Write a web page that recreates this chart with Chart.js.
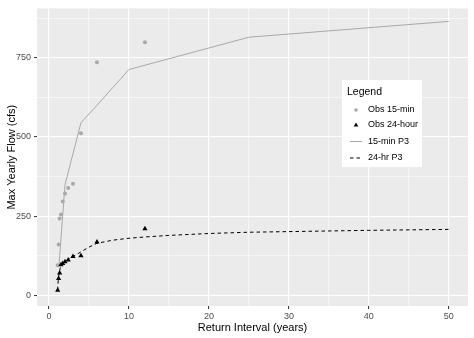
<!DOCTYPE html>
<html>
<head>
<meta charset="utf-8">
<script src="https://cdn.jsdelivr.net/npm/chart.js@4"></script>
<style>
  body { margin: 0; background: #fff; }
  canvas { display: block; }
</style>
</head>
<body>
<canvas id="flowChart" width="474" height="338"></canvas>
<script>
// observed return intervals (Weibull plotting positions, 11 years)
const obsInterval = [12, 6, 4, 3, 2.4, 2, 1.71, 1.5, 1.33, 1.2, 1.09];
const obs15min = [799, 736, 512, 352, 339, 321, 296, 255, 242, 160, 95];
const obs24hr = [210, 168, 125, 122, 111, 106, 100, 96, 70, 53, 16];

// fitted Pearson III curves
const p3Interval15 = [1.25, 2, 4, 6, 10, 25, 50];
const p3Flow15 = [95, 349, 545, 600, 713, 815, 865];
const p3Interval24 = [1.08, 1.15, 1.25, 1.4, 1.6, 2, 2.5, 3, 4, 5, 6, 8, 10, 12, 15, 20, 25, 30, 40, 50];
const p3Flow24 = [16, 45, 68, 85, 97, 106, 114, 122, 137, 152, 164, 174, 180, 184, 189, 195, 199, 201, 205, 208];

const seriesNames = ['Obs 15-min', 'Obs 24-hour', '15-min P3', '24-hr P3'];
const xTicks = [0, 10, 20, 30, 40, 50];
const xMinor = [5, 15, 25, 35, 45];
const yTicks = [0, 250, 500, 750];
const yMinor = [125, 375, 625, 875];

const FONT = "'Liberation Sans', Arial, sans-serif";
const toPoints = (xs, ys) => xs.map((x, i) => ({ x: x, y: ys[i] }));

const panelBg = {
    id: 'panelBg',
    beforeDraw(chart) {
        const { ctx, chartArea: a } = chart;
        ctx.save();
        ctx.fillStyle = '#EBEBEB';
        ctx.fillRect(a.left, a.top, a.right - a.left, a.bottom - a.top);
        ctx.restore();
    }
};

// ggplot-style legend box inside the panel
const insetLegend = {
    id: 'insetLegend',
    afterDraw(chart) {
        const c = chart.ctx;
        c.save();
        c.fillStyle = '#ffffff';
        c.fillRect(342, 80, 80, 87);
        c.fillStyle = '#000';
        c.textBaseline = 'middle';
        c.font = '10.5px ' + FONT;
        c.fillText('Legend', 347, 92);
        c.font = '9px ' + FONT;
        const rows = [110, 125, 141.5, 158];
        chart.data.datasets.forEach((ds, i) => {
            const y = rows[i];
            const kx = 356;
            if (i === 0) {
                c.fillStyle = '#A9A9A9';
                c.beginPath();
                c.arc(kx, y, 1.8, 0, Math.PI * 2);
                c.fill();
            } else if (i === 1) {
                c.fillStyle = '#000';
                c.beginPath();
                c.moveTo(kx, y - 2.6);
                c.lineTo(kx + 2.3, y + 1.4);
                c.lineTo(kx - 2.3, y + 1.4);
                c.closePath();
                c.fill();
            } else {
                c.strokeStyle = ds.borderColor;
                c.lineWidth = 1;
                c.setLineDash(ds.borderDash || []);
                c.beginPath();
                c.moveTo(350, y);
                c.lineTo(362, y);
                c.stroke();
                c.setLineDash([]);
            }
            c.fillStyle = '#000';
            c.fillText(ds.label, 368, y);
        });
        c.restore();
    }
};

const ctx = document.getElementById('flowChart').getContext('2d');

new Chart(ctx, {
    type: 'line',
    data: {
        datasets: [
            {
                label: seriesNames[0],
                data: toPoints(obsInterval, obs15min),
                showLine: false,
                pointStyle: 'circle',
                pointRadius: 2,
                pointBorderWidth: 0,
                pointBackgroundColor: '#A9A9A9',
                borderColor: '#A9A9A9',
                order: 2
            },
            {
                label: seriesNames[1],
                data: toPoints(obsInterval, obs24hr),
                showLine: false,
                pointStyle: 'triangle',
                pointRadius: 3,
                pointBorderWidth: 0,
                pointBackgroundColor: '#000',
                borderColor: '#000',
                order: 1
            },
            {
                label: seriesNames[2],
                data: toPoints(p3Interval15, p3Flow15),
                borderColor: '#A9A9A9',
                borderWidth: 1,
                pointRadius: 0,
                tension: 0,
                order: 4
            },
            {
                label: seriesNames[3],
                data: toPoints(p3Interval24, p3Flow24),
                borderColor: '#000',
                borderWidth: 1,
                borderDash: [3.5, 3],
                pointRadius: 0,
                tension: 0,
                order: 3
            }
        ]
    },
    options: {
        responsive: false,
        animation: false,
        layout: { padding: { top: 5, right: 6, left: 0, bottom: 0 } },
        plugins: {
            legend: { display: false },
            tooltip: { enabled: false }
        },
        scales: {
            x: {
                type: 'linear',
                min: -1.5,
                max: 52.4,
                afterBuildTicks: (s) => { s.ticks = xTicks.concat(xMinor).map(v => ({ value: v })); },
                afterFit: (s) => { s.height = 32; },
                border: { display: false },
                grid: {
                    color: '#ffffff',
                    lineWidth: (c) => xMinor.includes(c.tick && c.tick.value) ? 0.55 : 1.1,
                    tickLength: 3,
                    tickColor: (c) => xMinor.includes(c.tick && c.tick.value) ? 'rgba(0,0,0,0)' : '#333333',
                    tickWidth: 1
                },
                ticks: {
                    autoSkip: false,
                    maxRotation: 0,
                    padding: 2,
                    color: '#4D4D4D',
                    font: { family: FONT, size: 9 },
                    callback: (v) => xTicks.includes(v) ? String(v) : ''
                },
                title: {
                    display: true,
                    text: 'Return Interval (years)',
                    color: '#000',
                    font: { family: FONT, size: 11 },
                    padding: { top: 0, bottom: 3 }
                }
            },
            y: {
                type: 'linear',
                min: -34,
                max: 906,
                afterBuildTicks: (s) => { s.ticks = yTicks.concat(yMinor).map(v => ({ value: v })); },
                afterFit: (s) => { s.width = 37; },
                border: { display: false },
                grid: {
                    color: '#ffffff',
                    lineWidth: (c) => yMinor.includes(c.tick && c.tick.value) ? 0.55 : 1.1,
                    tickLength: 3,
                    tickColor: (c) => yMinor.includes(c.tick && c.tick.value) ? 'rgba(0,0,0,0)' : '#333333',
                    tickWidth: 1
                },
                ticks: {
                    autoSkip: false,
                    padding: 3,
                    color: '#4D4D4D',
                    font: { family: FONT, size: 9 },
                    callback: (v) => yTicks.includes(v) ? String(v) : ''
                },
                title: {
                    display: true,
                    text: 'Max Yearly Flow (cfs)',
                    color: '#000',
                    font: { family: FONT, size: 11 },
                    padding: { top: 5, bottom: 0 }
                }
            }
        }
    },
    plugins: [panelBg, insetLegend]
});
</script>
</body>
</html>
